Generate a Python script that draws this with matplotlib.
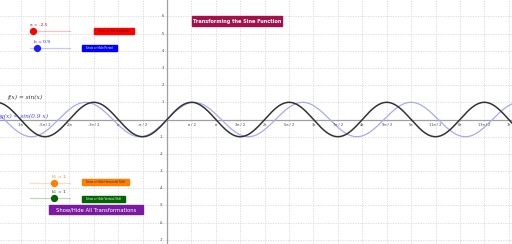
import matplotlib.pyplot as plt
import numpy as np

# curves shown in the applet
f_label = "f(x) = sin(x)"
g_label = "g(x) = sin(0.9 x)"
b_value = 0.9

# sliders: name, value, min, max, colour
slider_names = ["a = -2.5", "b = 0.9", "h$_1$ = 1", "k$_1$ = 1"]
slider_values = [-2.5, 0.9, 1, 1]
slider_min = [-3, 0, -5, -5]
slider_max = [3, 5, 5, 5]
slider_colors = ["#ff0000", "#2020ff", "#ff7f00", "#006400"]

# buttons
button_texts = ["Show or Hide Amplitude", "Show or Hide Period",
                "Show or Hide Horizontal Shift", "Show or Hide Vertical Shift"]
button_colors = ["#ff0000", "#0000ff", "#ff8000", "#006400"]
button_text_colors = ["#500000", "#ffffff", "#502000", "#ffffff"]
title_text = "Transforming the Sine Function"
all_text = "Show/Hide All Transformations"

W, H = 512, 244
fig = plt.figure(figsize=(W / 100, H / 100), dpi=100)
ax = fig.add_axes([0, 0, 1, 1])
ax.set_xlim(-10.75, 22.2)
ax.set_ylim(-7.24, 6.95)
for s in ax.spines.values():
    s.set_visible(False)
ax.set_xticks([])
ax.set_yticks([])

# grid
xmin, xmax = ax.get_xlim()
ymin, ymax = ax.get_ylim()
ks = np.arange(int(np.floor(xmin / (np.pi / 2))), int(np.ceil(xmax / (np.pi / 2))) + 1)
for k in ks:
    ax.axvline(k * np.pi / 2, color="#d8d8d8", lw=0.6, ls=(0, (1.5, 1.5)), zorder=0)
for j in range(-7, 8):
    ax.axhline(j, color="#d8d8d8", lw=0.6, ls=(0, (1.5, 1.5)), zorder=0)
ax.axhline(0, color="#a0a0a0", lw=0.9, zorder=1)
ax.axvline(0, color="#a0a0a0", lw=0.9, zorder=1)


def pi_label(k):
    if k % 2 == 0:
        n = k // 2
        if n == 1:
            return "π"
        if n == -1:
            return "-π"
        return f"{n}π"
    if k == 1:
        return "π / 2"
    if k == -1:
        return "-π / 2"
    return f"{k}π / 2"


for k in ks:
    xv = k * np.pi / 2
    if k == 0 or xv < xmin + 0.5 or xv > xmax:
        continue
    ha = "center"
    if xv > xmax - 0.4:
        xv, ha = xmax - 0.05, "right"
    ax.text(xv, -0.22, pi_label(k), fontsize=2.6, color="#444444",
            ha=ha, va="top")
for j in range(-7, 7):
    if j == 0:
        continue
    ax.text(-0.22, j, str(j), fontsize=2.6, color="#444444", ha="right", va="center")

x = np.linspace(xmin, xmax, 2000)
ax.plot(x, np.sin(b_value * x), color="#a8a8ff", lw=0.9, zorder=2)
ax.plot(x, np.sin(x), color="#333333", lw=1.1, zorder=3)


def px(x, y):
    return x / W, 1 - y / H


tf = fig.transFigure

# function labels
ax.text(*px(7, 97), f_label, transform=tf, fontsize=4.2, family="DejaVu Serif",
        style="italic", color="#333333", va="center")
ax.text(*px(0.5, 116), g_label, transform=tf, fontsize=4.2, family="DejaVu Serif",
        style="italic", color="#4040ff", va="center")

# sliders
slider_y = [31, 48, 183, 198]
for name, v, lo, hi, c, y in zip(slider_names, slider_values, slider_min,
                                  slider_max, slider_colors, slider_y):
    x0, x1 = 30, 70
    ax.plot([x0 / W, x1 / W], [1 - y / H] * 2, transform=tf, color=c, alpha=0.25, lw=0.9)
    xp = x0 + (v - lo) / (hi - lo) * (x1 - x0)
    ax.plot([xp / W], [1 - y / H], transform=tf, marker="o", ms=4.2, color=c,
            markeredgecolor=c)
    ax.text(*px(xp - 3, y - 6), name, transform=tf, fontsize=3.2, color=c, va="center")

# buttons: x0, x1, y0, y1
button_boxes = [(94, 134, 28, 34), (82, 117, 45, 51), (82, 129, 179, 185), (82, 125, 196, 202)]
for t, c, tc, (x0, x1, y0, y1) in zip(button_texts, button_colors, button_text_colors, button_boxes):
    fig.patches.append(plt.Rectangle(px(x0, y1), (x1 - x0) / W, (y1 - y0) / H,
                                     transform=tf, color=c, zorder=5))
    fig.text(*px((x0 + x1) / 2, (y0 + y1) / 2), t, fontsize=1.9, color=tc,
             ha="center", va="center", zorder=6)

fig.patches.append(plt.Rectangle(px(192, 26), 90 / W, 10 / H, transform=tf,
                                 color="#a3104a", zorder=5))
fig.text(*px(237, 21), title_text, fontsize=3.6, weight="bold", color="white",
         ha="center", va="center", zorder=6)

fig.patches.append(plt.Rectangle(px(49, 214), 94 / W, 9 / H, transform=tf,
                                 color="#7a1aa0", zorder=5))
fig.text(*px(96, 210), all_text, fontsize=3.8, color="white",
         ha="center", va="center", zorder=6)

fig.savefig("out.png", dpi=100)
